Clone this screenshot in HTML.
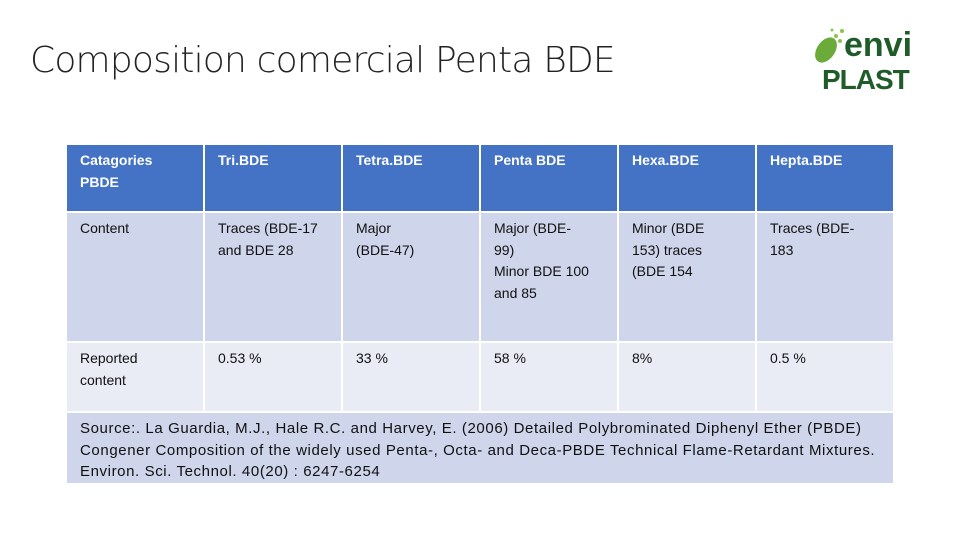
<!DOCTYPE html>
<html><head><meta charset="utf-8"><style>
body{margin:0;width:960px;height:540px;background:#fff;position:relative;overflow:hidden;font-family:"Liberation Sans",sans-serif}
.c{position:absolute;box-sizing:border-box;padding:5px 13px;font-size:14px;line-height:21.5px;color:#111}
.h{background:#4472C4;color:#fff;font-weight:bold}
.r1{background:#CFD5EA}.r2{background:#E9EBF5}
</style></head><body>
<div style="position:absolute;left:30px;top:40px;font-size:36px;color:#222;font-family:'DejaVu Sans','Liberation Sans',sans-serif;font-weight:300;letter-spacing:-0.8px">Composition comercial Penta BDE</div>
<div style="position:absolute;left:810px;top:26px;width:110px;height:70px">
<svg width="40" height="40" style="position:absolute;left:0;top:0"><ellipse cx="16" cy="24" rx="9" ry="14" transform="rotate(35 16 24)" fill="#6aab3a"/><circle cx="26" cy="10" r="2" fill="#8bc34a"/><circle cx="32" cy="5" r="2" fill="#8bc34a"/><circle cx="30" cy="15" r="2" fill="#8bc34a"/><circle cx="22" cy="4" r="1.5" fill="#8bc34a"/></svg>
<div style="position:absolute;left:34px;top:2px;font-size:34px;font-weight:bold;color:#1f5c2a;line-height:34px">envi</div>
<div style="position:absolute;left:12px;top:40px;font-size:28px;font-weight:bold;color:#1f5c2a;line-height:28px;letter-spacing:-1px">PLAST</div>
</div>
<div>
<div class="c h" style="left:67px;top:145px;width:136px;height:66px">Catagories<br>PBDE</div>
<div class="c h" style="left:205px;top:145px;width:136px;height:66px">Tri.BDE</div>
<div class="c h" style="left:343px;top:145px;width:136px;height:66px">Tetra.BDE</div>
<div class="c h" style="left:481px;top:145px;width:136px;height:66px">Penta BDE</div>
<div class="c h" style="left:619px;top:145px;width:136px;height:66px">Hexa.BDE</div>
<div class="c h" style="left:757px;top:145px;width:136px;height:66px">Hepta.BDE</div>

<div class="c r1" style="left:67px;top:213px;width:136px;height:128px">Content</div>
<div class="c r1" style="left:205px;top:213px;width:136px;height:128px">Traces (BDE-17<br>and BDE 28</div>
<div class="c r1" style="left:343px;top:213px;width:136px;height:128px">Major<br>(BDE-47)</div>
<div class="c r1" style="left:481px;top:213px;width:136px;height:128px">Major (BDE-<br>99)<br>Minor BDE 100<br>and 85</div>
<div class="c r1" style="left:619px;top:213px;width:136px;height:128px">Minor (BDE<br>153) traces<br>(BDE 154</div>
<div class="c r1" style="left:757px;top:213px;width:136px;height:128px">Traces (BDE-<br>183</div>

<div class="c r2" style="left:67px;top:343px;width:136px;height:68px">Reported<br>content</div>
<div class="c r2" style="left:205px;top:343px;width:136px;height:68px">0.53 %</div>
<div class="c r2" style="left:343px;top:343px;width:136px;height:68px">33 %</div>
<div class="c r2" style="left:481px;top:343px;width:136px;height:68px">58 %</div>
<div class="c r2" style="left:619px;top:343px;width:136px;height:68px">8%</div>
<div class="c r2" style="left:757px;top:343px;width:136px;height:68px">0.5 %</div>

<div class="c r1" style="left:67px;top:413px;width:826px;height:70px;white-space:nowrap;font-size:15px;letter-spacing:0.6px">Source:. La Guardia, M.J., Hale R.C. and Harvey, E. (2006) Detailed Polybrominated Diphenyl Ether (PBDE)<br>Congener Composition of the widely used Penta-, Octa- and Deca-PBDE Technical Flame-Retardant Mixtures.<br>Environ. Sci. Technol. 40(20) : 6247-6254</div>
</div>
</body></html>
